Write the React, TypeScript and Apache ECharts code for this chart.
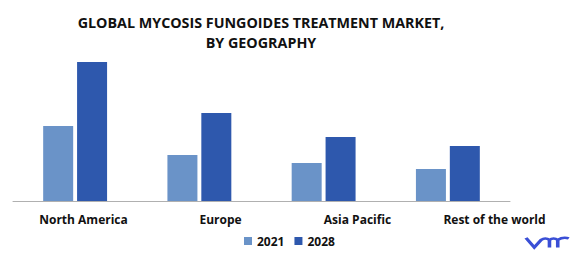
import React, { useEffect, useRef } from "react";
import * as echarts from "echarts";

const categories = ["North America", "Europe", "Asia Pacific", "Rest of the world"];
const series2021 = [7.5, 4.6, 3.8, 3.2];
const series2028 = [13.9, 8.8, 6.4, 5.5];
const seriesNames = ["2021", "2028"];
const titleLines = ["GLOBAL MYCOSIS FUNGOIDES TREATMENT MARKET,", "BY GEOGRAPHY"];

const LOGO_D =
  "M0 1 L6 11 L11 3 Q14 0 17 3 L17 11 M17 3 Q20 0 23 3 L23 11 M23 3 Q27 -0.5 31 1.5 M23 11 L23 3";

echarts.graphic.registerShape("vmrlogo", (echarts.graphic as any).extendPath(LOGO_D, {}));

export default function App() {
  const ref = useRef<HTMLDivElement>(null);
  useEffect(() => {
    document.body.style.margin = "0";
    if (!ref.current) return;
    const chart = echarts.init(ref.current, undefined, { renderer: "svg" });
    const font = "'Open Sans', 'Noto Sans', sans-serif";
    chart.setOption({
      animation: false,
      backgroundColor: "#ffffff",
      legend: {
        data: seriesNames,
        left: 244,
        top: 235,
        padding: 0,
        itemWidth: 8,
        itemHeight: 8,
        itemGap: 10,
        icon: "rect",
        textStyle: { fontFamily: font, fontWeight: "bold", fontSize: 12, color: "#111111" },
      },
      grid: [
        { left: 13, right: 66, top: 61, height: 140, containLabel: false },
        { left: 15, right: 13, top: 61, height: 140, containLabel: false },
      ],
      xAxis: [
        {
          type: "category",
          gridIndex: 0,
          data: categories,
          axisLine: { lineStyle: { color: "#b0b0b0", width: 1 } },
          axisTick: { show: false },
          axisLabel: { show: false },
        },
        {
          type: "category",
          gridIndex: 1,
          data: categories,
          axisLine: { show: false },
          axisTick: { show: false },
          axisLabel: {
            fontFamily: font,
            fontWeight: "bold",
            fontSize: 12,
            color: "#111111",
            margin: 12,
            interval: 0,
          },
        },
      ],
      yAxis: [
        { type: "value", gridIndex: 0, min: 0, max: 14, show: false, splitLine: { show: false } },
        { type: "value", gridIndex: 1, min: 0, max: 14, show: false, splitLine: { show: false } },
      ],
      series: [
        {
          name: seriesNames[0],
          type: "bar",
          data: series2021,
          barWidth: 30,
          barGap: "13%",
          itemStyle: { color: "#6a93c8" },
        },
        {
          name: seriesNames[1],
          type: "bar",
          data: series2028,
          barWidth: 30,
          itemStyle: { color: "#2e58ad" },
        },
      ],
      graphic: [
        {
          type: "text",
          x: 261,
          y: 12,
          style: {
            text: titleLines.join("\n"),
            align: "center",
            verticalAlign: "top",
            font: `bold 14.3px ${font}`,
            lineHeight: 20,
            fill: "#111111",
          },
        },
        {
          type: "vmrlogo",
          x: 526,
          y: 237,
          scaleX: 1.38,
          scaleY: 0.95,
          style: { fill: null, stroke: "#3a4fd6", lineWidth: 2.6 },
        } as any,
      ],
    });
    return () => chart.dispose();
  }, []);
  return <div ref={ref} style={{ width: 576, height: 265 }} />;
}
